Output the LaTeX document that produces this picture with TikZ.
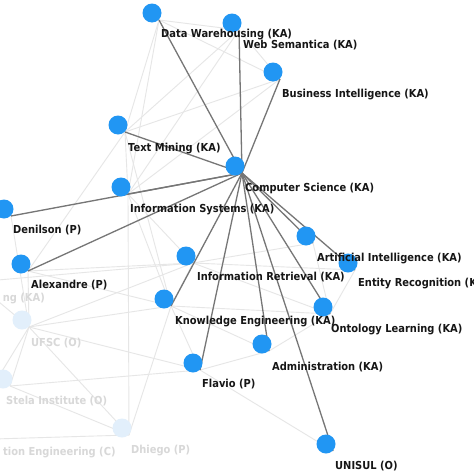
\documentclass[tikz,border=0pt]{standalone}
\usepackage{fontspec}
\setmainfont{DejaVu Sans}[FakeStretch=0.9]
\definecolor{nodeblue}{RGB}{33,150,243}
\definecolor{fadeblue}{RGB}{226,239,251}
\definecolor{darkedge}{RGB}{118,118,118}
\definecolor{faintedge}{RGB}{230,230,230}
\definecolor{fadetext}{RGB}{216,216,216}
\definecolor{labtext}{RGB}{22,22,22}
\tikzset{
  dot/.style={circle, fill=nodeblue, minimum size=19pt, inner sep=0pt},
  fdot/.style={circle, fill=fadeblue, minimum size=19pt, inner sep=0pt},
  lab/.style={anchor=base west, inner sep=0pt, font=\bfseries\fontsize{11}{13}\selectfont, text=labtext},
  flab/.style={lab, text=fadetext},
  strong/.style={draw=darkedge, line width=1.3pt},
  faint/.style={draw=faintedge, line width=0.9pt},
}
\begin{document}
\begin{tikzpicture}[x=1pt,y=-1pt]
\useasboundingbox (0,0) rectangle (474,474);
\fill[white] (0,0) rectangle (474,474);
\clip (0,0) rectangle (474,474);
% node anchor points (where the edges meet)
\coordinate (dw) at (159,20);
\coordinate (ws) at (239,30);
\coordinate (bi) at (280,79);
\coordinate (tm) at (125,132);
\coordinate (cs) at (242,173);
\coordinate (is) at (128,194);
\coordinate (den) at (11,216);
\coordinate (alex) at (28,271);
\coordinate (ir) at (193,263);
\coordinate (ke) at (171,306);
\coordinate (fla) at (200,370);
\coordinate (ai) at (313,243);
\coordinate (er) at (355,270);
\coordinate (ol) at (330,314);
\coordinate (adm) at (269,351);
\coordinate (uni) at (333,451);
\coordinate (ufsc) at (29,327);
\coordinate (stela) at (10,386);
\coordinate (dhi) at (129,435);
\coordinate (ngk) at (-25,282);
\coordinate (prod) at (-40,440);
% faint edges
\foreach \a/\b in {dw/tm,dw/is,dw/bi,dw/ws,ws/tm,ws/is,ws/bi,bi/tm,bi/is,tm/is,tm/ke,tm/alex,
  is/ir,is/dhi,is/ke,den/ufsc,alex/ufsc,alex/ir,ufsc/stela,ufsc/dhi,ufsc/fla,ufsc/ir,ufsc/ke,
  stela/fla,stela/dhi,dhi/ke,ke/ir,ke/fla,ke/adm,ke/ol,fla/uni,fla/adm,ir/ai,ir/ol,ir/er,
  ai/ol,ol/er,adm/ol,ngk/ufsc,ngk/ir,prod/dhi,prod/ufsc,den/is,alex/ke}
  \draw[faint] (\a) -- (\b);
% strong edges from Computer Science
\foreach \b in {dw,ws,bi,tm,is,den,alex,ke,fla,adm,uni,ol,ai,er}
  \draw[strong] (cs) -- (\b);
% circles
\foreach \n in {dw,ws,bi,tm,cs,is,den,alex,ir,ke,fla,ai,er,ol,adm,uni}
  \node[dot] (\n c) at ([shift={(-7,-7)}]\n) {};
\foreach \n in {ufsc,stela,dhi}
  \node[fdot] (\n c) at ([shift={(-7,-7)}]\n) {};
% labels
\node[flab] (ngl) at (45,301) [anchor=base east] {ng (KA)};
\node[flab] (ufscl) at (31,346) {UFSC (O)};
\node[flab] (stelal) at (6,404) {Stela Institute (O)};
\node[flab] (dhil) at (131,453) {Dhiego (P)};
\node[flab] (prodl) at (3,455) {tion Engineering (C)};
\node[lab] (dwl) at (161,37) {Data Warehousing (KA)};
\node[lab] (wsl) at (243,48) {Web Semantica (KA)};
\node[lab] (bil) at (282,97) {Business Intelligence (KA)};
\node[lab] (tml) at (128,151) {Text Mining (KA)};
\node[lab] (csl) at (245,191) {Computer Science (KA)};
\node[lab] (isl) at (130,212) {Information Systems (KA)};
\node[lab] (denl) at (13,233) {Denilson (P)};
\node[lab] (alexl) at (31,288) {Alexandre (P)};
\node[lab] (irl) at (197,280) {Information Retrieval (KA)};
\node[lab] (kel) at (175,324) {Knowledge Engineering (KA)};
\node[lab] (flal) at (202,387) {Flavio (P)};
\node[lab] (ail) at (317,261) {Artificial Intelligence (KA)};
\node[lab] (erl) at (358,286) {Entity Recognition (KA)};
\node[lab] (oll) at (331,332) {Ontology Learning (KA)};
\node[lab] (adml) at (272,370) {Administration (KA)};
\node[lab] (unil) at (335,469) {UNISUL (O)};
\end{tikzpicture}
\end{document}
